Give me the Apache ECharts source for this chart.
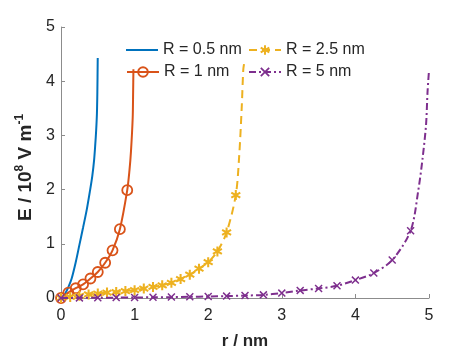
<!DOCTYPE html>
<html>
<head>
<meta charset="utf-8">
<script src="https://cdn.jsdelivr.net/npm/echarts@6/dist/echarts.min.js"></script>
<style>html,body{margin:0;padding:0;background:#fff;}#c{width:474px;height:355px;}</style>
</head>
<body>
<div id="c"></div>
<script>
// ---- data ----
const xTicks = [0, 1, 2, 3, 4, 5];
const yTicks = [0, 1, 2, 3, 4, 5];
const seriesNames = ['R = 0.5 nm', 'R = 1 nm', 'R = 2.5 nm', 'R = 5 nm'];

// R = 0.5 nm (line only)
const r05 = [0, 0.03, 0.06, 0.1, 0.145, 0.2, 0.25, 0.3, 0.35, 0.394, 0.425, 0.45, 0.465, 0.478, 0.488, 0.494, 0.499];
const e05 = [0, 0.03, 0.09, 0.2, 0.36, 0.66, 0.98, 1.3, 1.63, 1.98, 2.25, 2.55, 2.82, 3.1, 3.4, 3.8, 4.43];

// R = 1 nm (circle markers + tail without markers)
const r1Mk = [0, 0.1, 0.2, 0.3, 0.4, 0.5, 0.6, 0.7, 0.8, 0.9];
const e1Mk = [0, 0.1, 0.18, 0.25, 0.36, 0.48, 0.65, 0.88, 1.27, 1.99];
const r1Tail = [0.93, 0.951, 0.974, 0.98, 0.984];
const e1Tail = [2.35, 2.71, 3.32, 3.8, 4.22];

// R = 2.5 nm (asterisk markers + tail)
const r25Mk = [0, 0.125, 0.25, 0.375, 0.5, 0.625, 0.75, 0.875, 1.0, 1.125, 1.25, 1.375, 1.5, 1.625, 1.75, 1.875, 2.0, 2.125, 2.25, 2.375];
const e25Mk = [0, 0.02, 0.04, 0.065, 0.082, 0.1, 0.11, 0.127, 0.145, 0.175, 0.205, 0.235, 0.28, 0.35, 0.43, 0.54, 0.66, 0.86, 1.21, 1.9];
const r25Tail = [2.42, 2.455, 2.477, 2.49];
const e25Tail = [2.6, 3.5, 4.22, 4.34];

// R = 5 nm (x markers + tail)
const r5Mk = [0, 0.25, 0.5, 0.75, 1.0, 1.25, 1.5, 1.75, 2.0, 2.25, 2.5, 2.75, 3.0, 3.25, 3.5, 3.75, 4.0, 4.25, 4.5, 4.75];
const e5Mk = [0, 0.002, 0.004, 0.007, 0.01, 0.013, 0.017, 0.022, 0.028, 0.035, 0.045, 0.058, 0.09, 0.14, 0.175, 0.225, 0.33, 0.46, 0.7, 1.24];
const r5Tail = [4.855, 4.914, 4.96, 4.98, 4.998];
const e5Tail = [1.99, 2.59, 3.2, 3.8, 4.16];

// ---- build ----
function build(rm, em, rt, et) {
  const out = rm.map((r, i) => [r, em[i]]);
  rt.forEach((r, i) => out.push({ value: [r, et[i]], symbol: 'none' }));
  return out;
}
const COLORS = ['#0072BD', '#D95319', '#EDB120', '#7E2F8E'];
const STAR = 'path://M8 0L12 0L12 20L8 20Z M17.73 3.27L19.73 6.73L2.27 16.73L0.27 13.27Z M19.73 13.27L17.73 16.73L0.27 6.73L2.27 3.27Z';
const CROSS = 'path://M16.01 1.87L18.13 3.99L3.99 18.13L1.87 16.01Z M1.87 3.99L3.99 1.87L18.13 16.01L16.01 18.13Z';
const LINEICON = 'path://M0 0L32 0L32 2L0 2Z';
const FONT = 'Liberation Sans, Arial, sans-serif';

const chart = echarts.init(document.getElementById('c'), null, { renderer: 'canvas' });

function legendAt(item, left, top) {
  return {
    data: [item], left: left, top: top, orient: 'horizontal',
    itemWidth: 32, itemHeight: 12, padding: 0, symbolKeepAspect: true,
    textStyle: { fontSize: 16, fontFamily: FONT, color: '#262626' },
    selectedMode: false
  };
}

chart.setOption({
  animation: false,
  backgroundColor: '#fff',
  grid: { left: 61, right: 45, top: 27, bottom: 52, containLabel: false },
  legend: [
    legendAt({ name: seriesNames[0], icon: LINEICON, itemStyle: { color: COLORS[0] } }, 126, 42),
    legendAt(seriesNames[1], 126, 64),
    legendAt(seriesNames[2], 248, 42),
    legendAt(seriesNames[3], 248, 64)
  ],
  xAxis: {
    type: 'value', min: xTicks[0], max: xTicks[xTicks.length - 1], interval: 1,
    name: 'r / nm', nameLocation: 'middle', nameGap: 35,
    nameTextStyle: { fontSize: 17, fontWeight: 'bold', fontFamily: FONT, color: '#262626' },
    axisLine: { show: true, onZero: false, lineStyle: { color: '#8c8c8c', width: 1 } },
    axisTick: { show: true, inside: true, length: 4, lineStyle: { color: '#8c8c8c' } },
    axisLabel: { fontSize: 16, fontFamily: FONT, color: '#262626', margin: 10 },
    splitLine: { show: false }
  },
  yAxis: {
    type: 'value', min: yTicks[0], max: yTicks[yTicks.length - 1], interval: 1,
    name: '{b|E / 10}{s|8}{b| V m}{s|-1}', nameLocation: 'middle', nameGap: 8, nameRotate: 90,
    nameTextStyle: {
      fontFamily: FONT, color: '#262626', padding: [0, 10, 0, 0],
      rich: {
        b: { fontSize: 19, fontWeight: 'bold', fontFamily: FONT, color: '#262626', lineHeight: 22, verticalAlign: 'bottom' },
        s: { fontSize: 12, fontWeight: 'bold', fontFamily: FONT, color: '#262626', lineHeight: 22, verticalAlign: 'top' }
      }
    },
    axisLine: { show: true, onZero: false, lineStyle: { color: '#8c8c8c', width: 1 } },
    axisTick: { show: true, inside: true, length: 4, lineStyle: { color: '#8c8c8c' } },
    axisLabel: { fontSize: 16, fontFamily: FONT, color: '#262626', margin: 6 },
    splitLine: { show: false }
  },
  series: [
    {
      name: seriesNames[0], type: 'line', symbol: 'none', showSymbol: false,
      smooth: 0.3,
      data: r05.map((r, i) => [r, e05[i]]),
      lineStyle: { color: COLORS[0], width: 2 }, itemStyle: { color: COLORS[0] }, z: 2
    },
    {
      name: seriesNames[1], type: 'line', symbol: 'circle', symbolSize: 10,
      smooth: 0.3,
      data: build(r1Mk, e1Mk, r1Tail, e1Tail),
      lineStyle: { color: COLORS[1], width: 2 },
      itemStyle: { color: 'rgba(255,255,255,0)', borderColor: COLORS[1], borderWidth: 1.8 }, z: 3
    },
    {
      name: seriesNames[2], type: 'line', symbol: STAR, symbolSize: 10,
      smooth: 0.3,
      data: build(r25Mk, e25Mk, r25Tail, e25Tail),
      lineStyle: { color: COLORS[2], width: 2, type: [8, 5] },
      itemStyle: { color: COLORS[2], borderWidth: 0 }, z: 4
    },
    {
      name: seriesNames[3], type: 'line', symbol: CROSS, symbolSize: 8,
      smooth: 0.3,
      data: build(r5Mk, e5Mk, r5Tail, e5Tail),
      lineStyle: { color: COLORS[3], width: 2, type: [7, 3, 2, 3] },
      itemStyle: { color: COLORS[3], borderWidth: 0 }, z: 5
    }
  ]
});
</script>
</body>
</html>
